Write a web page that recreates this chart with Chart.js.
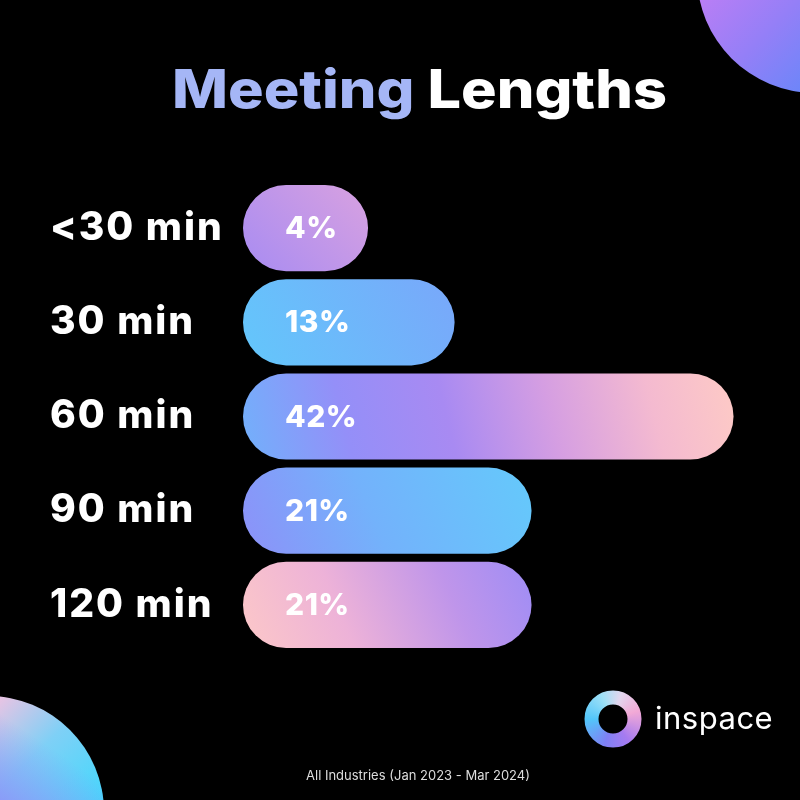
<!DOCTYPE html>
<html>
<head>
<meta charset="utf-8">
<script src="https://cdn.jsdelivr.net/npm/chart.js@4.4.1/dist/chart.umd.min.js"></script>
<style>
  html, body { margin: 0; padding: 0; background: #000; }
  canvas { display: block; }
</style>
</head>
<body>
<canvas id="c" width="800" height="800"></canvas>
<script>
// ---- data ----
const categories = ['<30 min', '30 min', '60 min', '90 min', '120 min'];
const shares = [4, 13, 42, 21, 21];
const valueLabels = ['4%', '13%', '42%', '21%', '21%'];
const titleParts = ['Meeting', 'Lengths'];
const footnote = 'All Industries (Jan 2023 - Mar 2024)';
const brandName = 'inspace';

// ---- styles ----
const barGradients = [
  [[0, '#a48af3'], [1, '#dca3df']],
  [[0, '#62c8fb'], [1, '#7aa6fa']],
  [[0, '#70b2fb'], [0.22, '#948ff8'], [0.42, '#a88af2'], [0.62, '#d59ee2'], [0.82, '#f4bad0'], [1, '#fecbc5']],
  [[0, '#8e8ff8'], [0.45, '#73b2fb'], [1, '#64cafb']],
  [[0, '#fdc9c7'], [0.35, '#edb2d8'], [0.7, '#bf95ea'], [1, '#9c8cf6']]
];
const BAR_START = -9; // visual offset of the pill start (styling)

function barFill(ctx) {
  const chart = ctx.chart;
  if (!chart.chartArea) return '#888';
  const i = ctx.dataIndex;
  const xs = chart.scales.x, ys = chart.scales.y;
  const x0 = xs.getPixelForValue(BAR_START);
  const x1 = xs.getPixelForValue(shares[i]);
  const yc = ys.getPixelForValue(i);
  const g = chart.ctx.createLinearGradient(x0, yc + 60, x1, yc - 60);
  barGradients[i].forEach(([o, c]) => g.addColorStop(o, c));
  return g;
}

const decor = {
  id: 'decor',
  beforeDraw(chart) {
    const c = chart.ctx;
    c.save();
    c.fillStyle = '#000';
    c.fillRect(0, 0, chart.width, chart.height);
    // top-right blob
    let g = c.createLinearGradient(700, 0, 800, 100);
    g.addColorStop(0, '#b97ef5');
    g.addColorStop(0.5, '#947ff7');
    g.addColorStop(1, '#6a86f9');
    c.fillStyle = g;
    c.beginPath(); c.arc(815, -25, 118, 0, Math.PI * 2); c.fill();
    // bottom-left blob
    g = c.createLinearGradient(0, 700, 100, 800);
    g.addColorStop(0, '#e6c4e4');
    g.addColorStop(0.45, '#7fd0f6');
    g.addColorStop(1, '#45d8fc');
    c.fillStyle = g;
    c.beginPath(); c.arc(-12, 812, 116, 0, Math.PI * 2); c.fill();
    g = c.createLinearGradient(0, 800, 40, 740);
    g.addColorStop(0, 'rgba(140,150,248,0.9)');
    g.addColorStop(1, 'rgba(140,150,248,0)');
    c.fillStyle = g;
    c.beginPath(); c.arc(-12, 812, 116, 0, Math.PI * 2); c.fill();
    c.restore();
    // wider tracking for the category labels drawn by the y axis
    c.letterSpacing = '2px';
  },
  afterDatasetsDraw(chart) {
    const c = chart.ctx;
    const meta = chart.getDatasetMeta(0);
    c.save();
    c.letterSpacing = '0.5px';
    c.fillStyle = '#ffffff';
    c.font = '800 30px Inter';
    c.textAlign = 'left';
    c.textBaseline = 'middle';
    meta.data.forEach((bar, i) => {
      c.fillText(valueLabels[i], bar.base + 42, bar.y + 1);
    });
    c.restore();
  },
  afterDraw(chart) {
    const c = chart.ctx;
    c.save();
    c.letterSpacing = '0px';
    // title
    c.font = '800 53px Inter';
    c.textBaseline = 'alphabetic';
    c.textAlign = 'left';
    const w1 = c.measureText(titleParts[0] + ' ').width;
    const w2 = c.measureText(titleParts[1]).width;
    const sx = 495 / (w1 + w2);
    c.save();
    c.translate(172, 108);
    c.scale(sx, 1);
    c.fillStyle = '#a5b6f6';
    c.fillText(titleParts[0], 0, 0);
    c.fillStyle = '#ffffff';
    c.fillText(titleParts[1], w1, 0);
    c.restore();
    // logo ring
    const cx = 613, cy = 719;
    let g;
    if (c.createConicGradient) {
      g = c.createConicGradient(Math.PI, cx, cy);
      g.addColorStop(0, '#52c6fa');
      g.addColorStop(0.18, '#9fe0f6');
      g.addColorStop(0.3, '#e2d6ee');
      g.addColorStop(0.45, '#f2a9d6');
      g.addColorStop(0.65, '#a67bf0');
      g.addColorStop(0.8, '#7f80f5');
      g.addColorStop(1, '#52c6fa');
    } else {
      g = '#8fa8f6';
    }
    c.strokeStyle = g;
    c.lineWidth = 14;
    c.beginPath(); c.arc(cx, cy, 21.5, 0, Math.PI * 2); c.stroke();
    // brand name
    c.fillStyle = '#ffffff';
    c.font = '400 31px Inter';
    c.letterSpacing = '0.5px';
    c.textBaseline = 'alphabetic';
    c.fillText(brandName, 655, 729);
    // footnote
    c.letterSpacing = '0px';
    c.fillStyle = '#dddddd';
    c.font = '13px Inter';
    c.textAlign = 'center';
    c.fillText(footnote, 418, 780);
    c.restore();
  }
};

new Chart(document.getElementById('c'), {
  type: 'bar',
  data: {
    labels: categories,
    datasets: [{
      data: shares,
      base: BAR_START,
      backgroundColor: barFill,
      borderRadius: 60,
      borderSkipped: false,
      borderWidth: 0,
      barPercentage: 0.915,
      categoryPercentage: 1
    }]
  },
  options: {
    indexAxis: 'y',
    responsive: false,
    animation: false,
    events: [],
    layout: { padding: { left: 50, right: 28, top: 181, bottom: 148 } },
    plugins: { legend: { display: false }, tooltip: { enabled: false }, title: { display: false } },
    scales: {
      x: { display: false, min: BAR_START, max: 46 },
      y: {
        grid: { display: false, drawTicks: false },
        border: { display: false },
        ticks: {
          color: '#ffffff',
          font: { family: 'Inter', size: 39, weight: '800' },
          crossAlign: 'far',
          padding: 0
        },
        afterFit(axis) { axis.width = 193; }
      }
    }
  },
  plugins: [decor]
});
</script>
</body>
</html>
